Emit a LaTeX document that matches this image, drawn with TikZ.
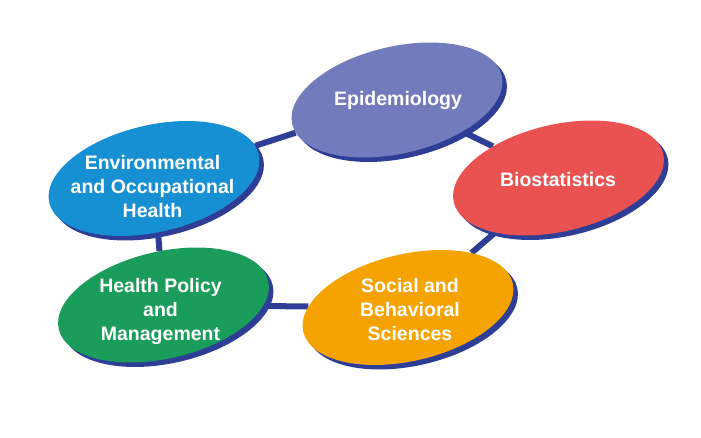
\documentclass[tikz,border=0pt]{standalone}
\usepackage{fontspec}
\setmainfont{Liberation Sans}
\usetikzlibrary{shapes,backgrounds}

\definecolor{rimblue}{RGB}{46,62,150}
\definecolor{epicol}{RGB}{114,123,187}
\definecolor{biocol}{RGB}{234,82,82}
\definecolor{soccol}{RGB}{244,163,0}
\definecolor{envcol}{RGB}{23,144,211}
\definecolor{hpmcol}{RGB}{26,157,91}

\begin{document}
\begin{tikzpicture}[line join=bevel,
	blob/.style={ellipse,rotate=13,minimum width=215bp,minimum height=107bp,inner sep=0pt},
	rim/.style={blob,fill=rimblue},
	topic/.style={text=white,align=center,font=\fontsize{19.5bp}{24bp}\selectfont\bfseries},
	link/.style={draw=rimblue,line width=6bp}]
	\useasboundingbox (0bp,0bp) rectangle (701bp,438bp);
	%% rims
	\node (epi-r) at (401.5bp,333.5bp) [rim] {};
	\node (bio-r) at (563.0bp,255.5bp) [rim] {};
	\node (soc-r) at (412.5bp,126.0bp) [rim] {};
	\node (env-r) at (158.5bp,255.0bp) [rim] {};
	\node (hpm-r) at (168.0bp,128.5bp) [rim] {};
	%% ellipses
	\node (epi) at (397.0bp,338.0bp) [blob,fill=epicol] {};
	\node (bio) at (558.5bp,260.0bp) [blob,fill=biocol] {};
	\node (soc) at (408.0bp,130.5bp) [blob,fill=soccol] {};
	\node (env) at (154.0bp,259.5bp) [blob,fill=envcol] {};
	\node (hpm) at (163.5bp,133.0bp) [blob,fill=hpmcol] {};
	%% texts
	\node (epi-t) at (398.0bp,337.0bp) [topic] {Epidemiology};
	\node (bio-t) at (558.0bp,258.5bp) [topic] {Biostatistics};
	\node (soc-t) at (410.0bp,128.0bp) [topic] {Social and\\Behavioral\\Sciences};
	\node (env-t) at (152.5bp,251.5bp) [topic] {Environmental\\and Occupational\\Health};
	\node (hpm-t) at (160.5bp,126.0bp) [topic] {Health Policy\\and\\Management};
	%
	\begin{scope}[on background layer]
	  \draw [link] (env) -- (epi);
	  \draw [link] (epi) -- (bio);
	  \draw [link] (bio) -- (soc);
	  \draw [link] (soc) -- (hpm);
	  \draw [link] (hpm) -- (env);
	\end{scope}
	%
\end{tikzpicture}
\end{document}
